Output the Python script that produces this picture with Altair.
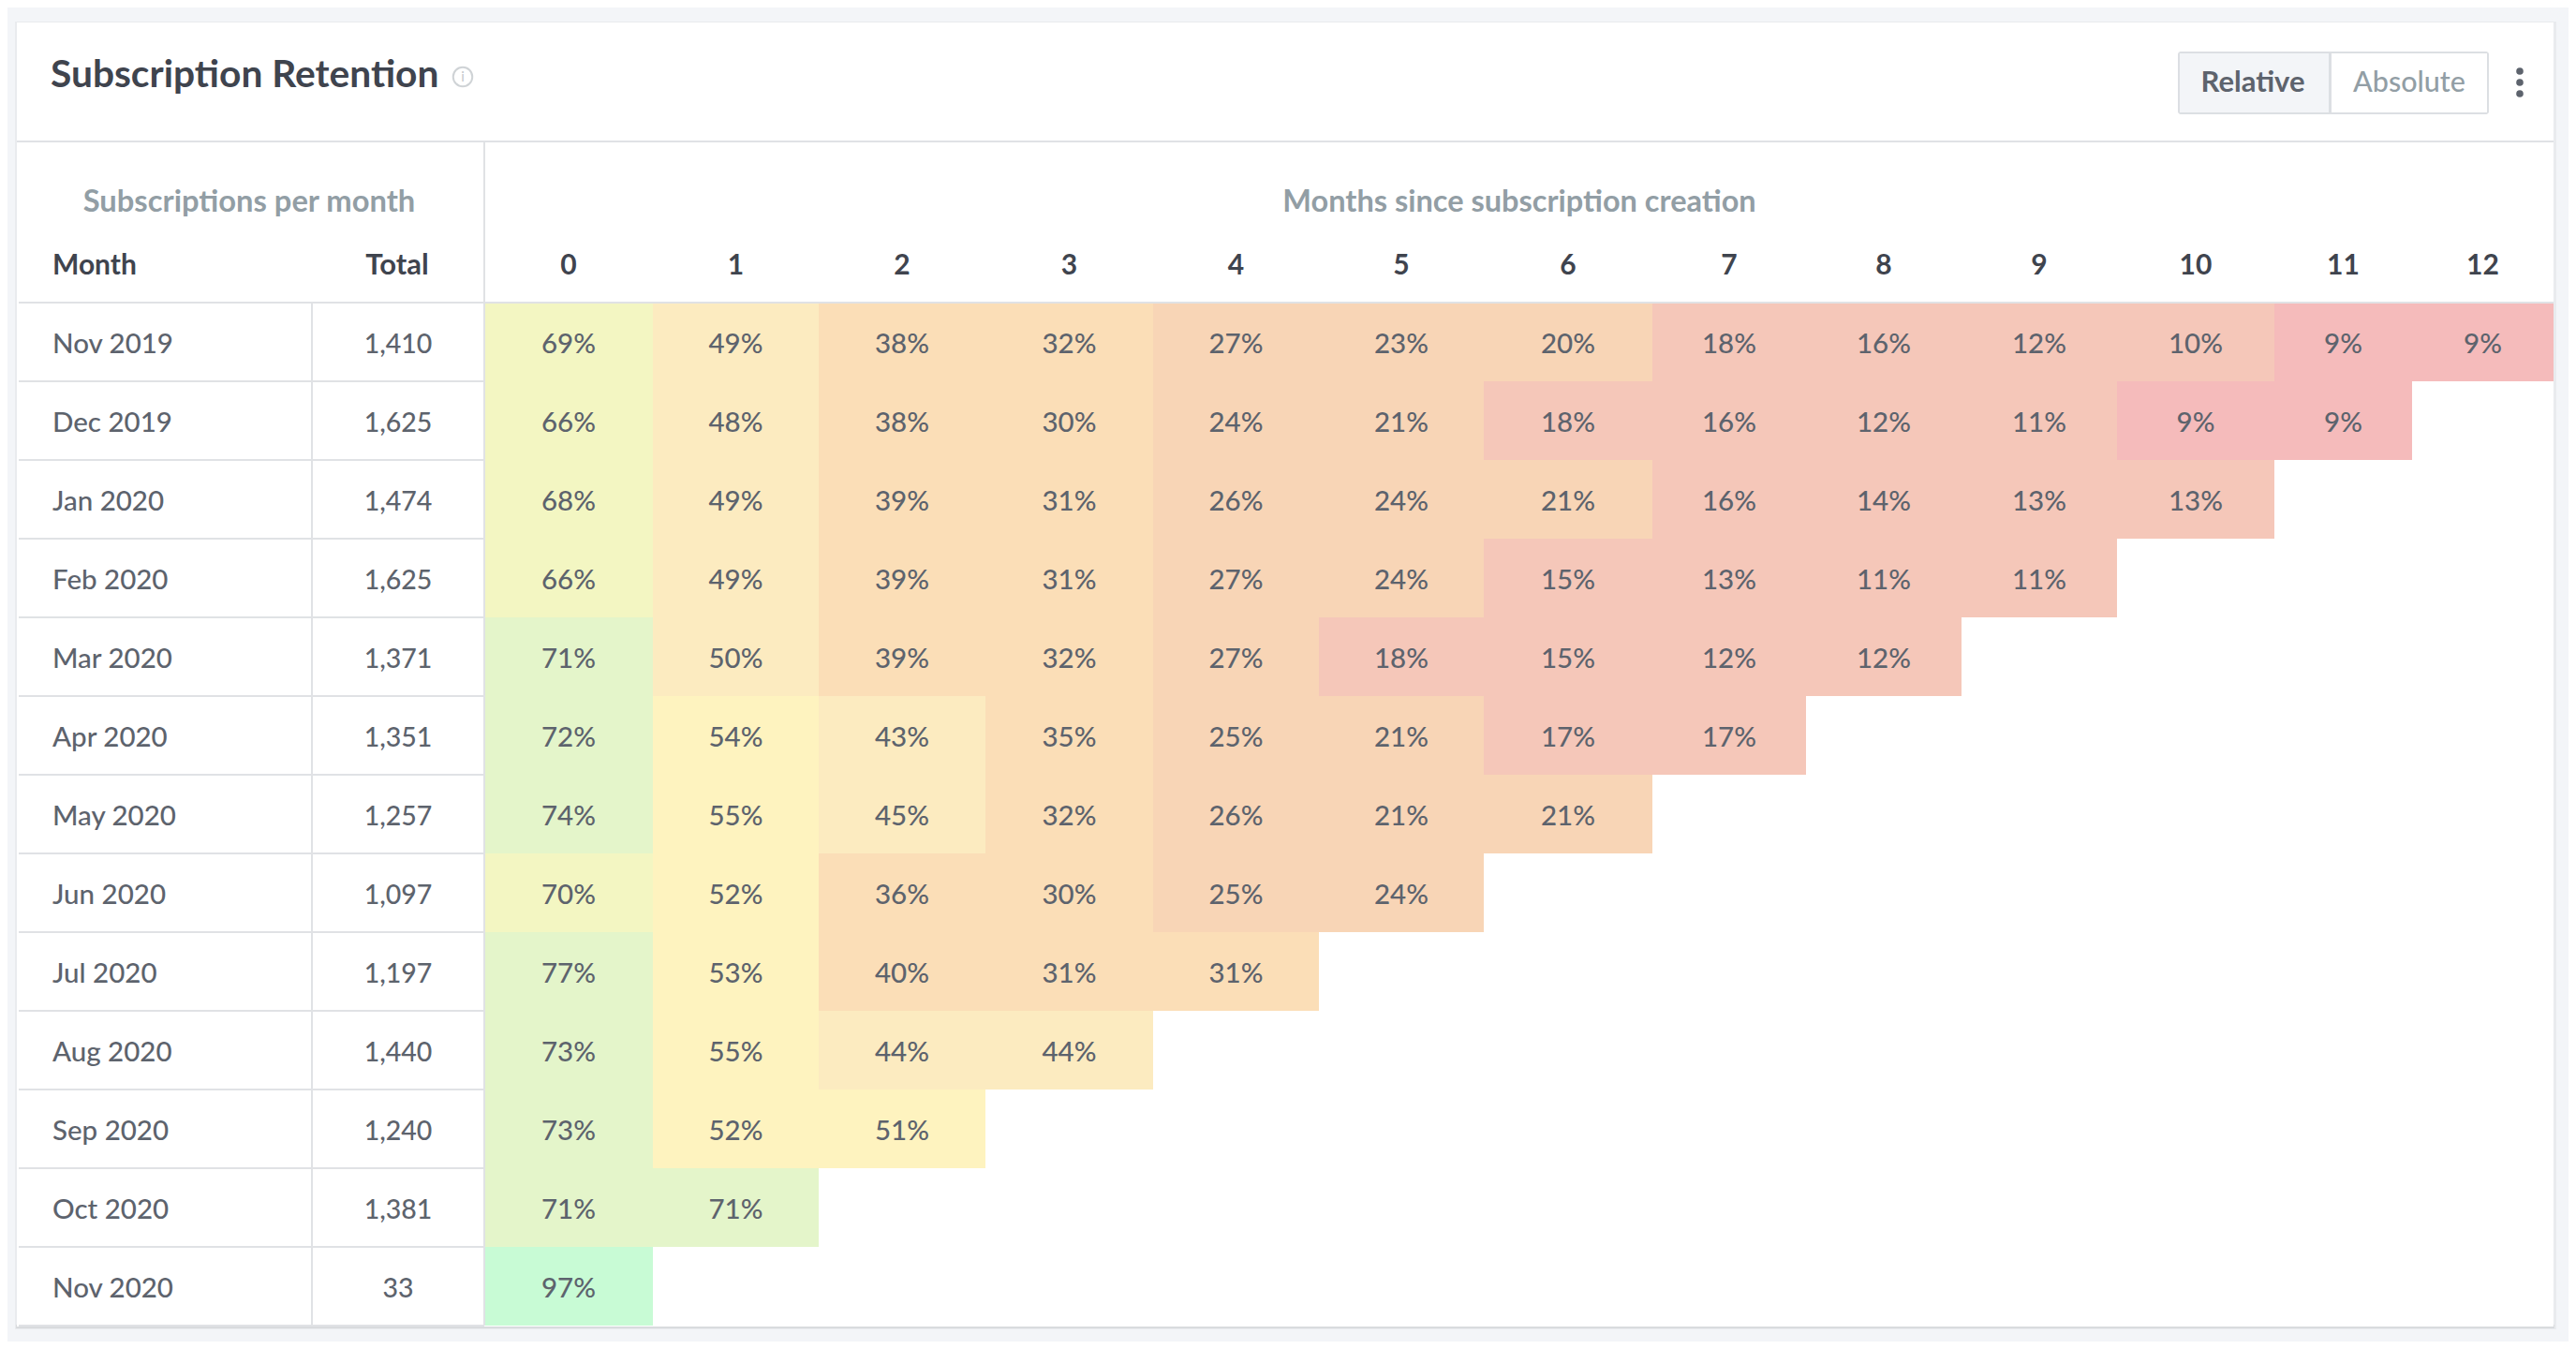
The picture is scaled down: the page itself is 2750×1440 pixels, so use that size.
import altair as alt
import pandas as pd

FONT = "Lato"
BG = "#f3f5f8"
LINE = "#e0e2e5"
DARK = "#3f444e"
BODY = "#5d636d"
MUTED = "#929ea5"

months = ["Nov 2019", "Dec 2019", "Jan 2020", "Feb 2020", "Mar 2020", "Apr 2020", "May 2020",
          "Jun 2020", "Jul 2020", "Aug 2020", "Sep 2020", "Oct 2020", "Nov 2020"]
totals = ["1,410", "1,625", "1,474", "1,625", "1,371", "1,351", "1,257",
          "1,097", "1,197", "1,440", "1,240", "1,381", "33"]
retention = [
    [69, 49, 38, 32, 27, 23, 20, 18, 16, 12, 10, 9, 9],
    [66, 48, 38, 30, 24, 21, 18, 16, 12, 11, 9, 9],
    [68, 49, 39, 31, 26, 24, 21, 16, 14, 13, 13],
    [66, 49, 39, 31, 27, 24, 15, 13, 11, 11],
    [71, 50, 39, 32, 27, 18, 15, 12, 12],
    [72, 54, 43, 35, 25, 21, 17, 17],
    [74, 55, 45, 32, 26, 21, 21],
    [70, 52, 36, 30, 25, 24],
    [77, 53, 40, 31, 31],
    [73, 55, 44, 44],
    [73, 52, 51],
    [71, 71],
    [97],
]
month_numbers = list(range(13))

# layout of the table, in page pixels (the page margin is taken off below)
OFF = 8
col_domain = [-1, 0, 1, 2, 3, 4, 5, 6, 7, 8, 9, 10, 11, 12, 13]
col_edges = [333, 517, 697, 874, 1052, 1231, 1408, 1584, 1764, 1928, 2094, 2260, 2428, 2575, 2726]
ROW_TOP, ROW_BOTTOM = 323, 1415

thresholds = [10, 20, 30, 43, 51, 60, 71, 90]
shades = ["#f5bbbb", "#f5c7b9", "#f8d5b6", "#fbdeb7", "#fcebc0", "#fef3bf",
          "#f3f6c2", "#e4f5ca", "#c8fbd5"]

cells = pd.DataFrame([
    {"row": r, "row2": r + 1, "col": c, "col2": c + 1, "mid": c + 0.5, "mrow": r + 0.5,
     "value": v, "label": f"{v}%"}
    for r, vals in enumerate(retention) for c, v in enumerate(vals)
])
rows = pd.DataFrame({"month": months, "total": totals,
                     "mrow": [i + 0.5 for i in range(len(months))],
                     "mid": [-0.5] * len(months)})
heads = pd.DataFrame({"label": [str(m) for m in month_numbers],
                      "mid": [m + 0.5 for m in month_numbers]})
one = pd.DataFrame({"a": [0]})

X = alt.Scale(type="linear", domain=col_domain, range=[e - OFF for e in col_edges])
Y = alt.Scale(type="linear", domain=[0, 13], range=[ROW_TOP - OFF, ROW_BOTTOM - OFF])
NOAX = None
TEXT_DY = 3


def box(x0, y0, x1, y1, **kw):
    return alt.Chart(one).mark_rect(**kw).encode(
        x=alt.value(x0 - OFF), x2=alt.value(x1 - OFF),
        y=alt.value(y0 - OFF), y2=alt.value(y1 - OFF))


def label(text, x, y, size, color, weight=400, align="center"):
    return alt.Chart(one).mark_text(
        text=text, font=FONT, fontSize=size, color=color, fontWeight=weight,
        align=align, baseline="middle").encode(x=alt.value(x - OFF), y=alt.value(y - OFF))


layers = []
# card with a soft edge
layers.append(box(16, 23, 2729, 1419, color="#e9ebee"))
layers.append(box(17, 1414, 2727, 1418, color="#d9dbde"))
layers.append(box(18, 24, 2726, 1416, color="#ffffff"))

# cells
layers.append(alt.Chart(cells).mark_rect().encode(
    x=alt.X("col:Q", scale=X, axis=NOAX),
    x2="col2:Q",
    y=alt.Y("row:Q", scale=Y, axis=NOAX),
    y2="row2:Q",
    color=alt.Color("value:Q", legend=None,
                    scale=alt.Scale(type="threshold", domain=thresholds, range=shades)),
))

# table lines
layers.append(box(18, 150, 2726, 152, color=LINE))
layers.append(box(20, 322, 2726, 324, color=LINE))
for i in range(1, 14):
    y = ROW_TOP + 84 * i
    layers.append(box(20, y - 1, 517, y + 1, color=LINE))
layers.append(box(332, 323, 334, 1415, color=LINE))
layers.append(box(516, 152, 518, 1415, color=LINE))

# heading
layers.append(label("Subscription Retention", 54, 81, 40.7, DARK, 700, "left"))
layers.append(alt.Chart(one).mark_point(size=420, color="#cfd3d6", strokeWidth=2, filled=False, opacity=1).encode(
    x=alt.value(494 - OFF), y=alt.value(82 - OFF)))
layers.append(label("i", 494, 82, 15, "#c4c9cc", 400))

# toggle
layers.append(box(2325, 55, 2657, 122, color="#dcdfe3", cornerRadius=3))
layers.append(box(2327, 57, 2486, 120, color=BG))
layers.append(box(2489, 57, 2655, 120, color="#ffffff"))
layers.append(label("Relative", 2405, 89, 31, BODY, 700))
layers.append(label("Absolute", 2572, 89, 30.5, MUTED, 500))
for y in (76, 88, 100):
    layers.append(alt.Chart(one).mark_circle(size=58, color=BODY, opacity=1).encode(
        x=alt.value(2690 - OFF), y=alt.value(y - OFF)))

# column headers
layers.append(label("Subscriptions per month", 266, 216, 32.7, MUTED, 700))
layers.append(label("Months since subscription creation", 1622, 216, 32.5, MUTED, 700))
layers.append(label("Month", 56, 284, 30, DARK, 700, "left"))
layers.append(label("Total", 424, 284, 31, DARK, 700))
layers.append(alt.Chart(heads).mark_text(font=FONT, fontSize=30, fontWeight=700, color=DARK, baseline="middle", dy=2).encode(
    x=alt.X("mid:Q", scale=X, axis=NOAX),
    y=alt.value(282 - OFF),
    text="label:N"))

# row labels and totals
layers.append(alt.Chart(rows).mark_text(font=FONT, fontSize=29.5, fontWeight=500, color=BODY, align="left", baseline="middle", dy=TEXT_DY).encode(
    x=alt.value(56 - OFF),
    y=alt.Y("mrow:Q", scale=Y, axis=NOAX),
    text="month:N"))
layers.append(alt.Chart(rows).mark_text(font=FONT, fontSize=28.5, fontWeight=500, color=BODY, baseline="middle", dy=TEXT_DY).encode(
    x=alt.X("mid:Q", scale=X, axis=NOAX),
    y=alt.Y("mrow:Q", scale=Y, axis=NOAX),
    text="total:N"))

# percentages
layers.append(alt.Chart(cells).mark_text(font=FONT, fontSize=29.5, fontWeight=500, color=BODY, baseline="middle", dy=TEXT_DY).encode(
    x=alt.X("mid:Q", scale=X, axis=NOAX),
    y=alt.Y("mrow:Q", scale=Y, axis=NOAX),
    text="label:N"))

chart = alt.layer(*layers).properties(
    width=2734, height=1424, padding=0, background=BG, autosize="none",
).configure_view(strokeWidth=0)

chart.save("out.html", embed_options={"renderer": "svg", "actions": False})
